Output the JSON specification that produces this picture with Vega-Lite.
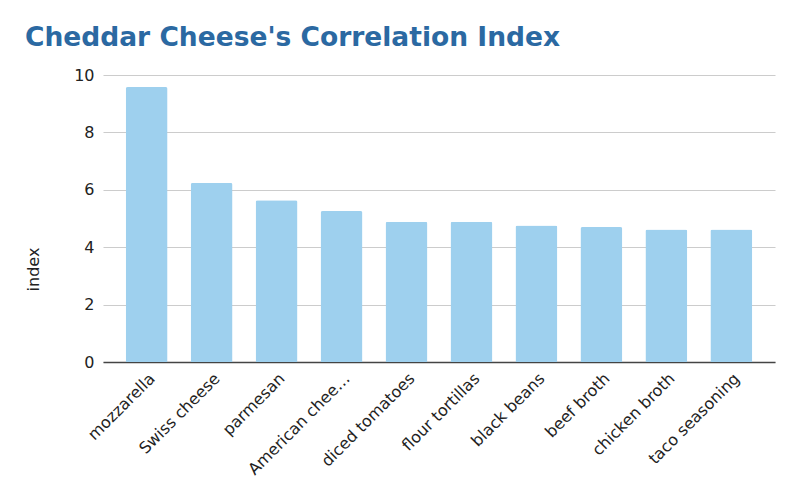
{
  "$schema": "https://vega.github.io/schema/vega-lite/v6.json",
  "autosize": "none",
  "padding": {"left": 103, "top": 75, "right": 25, "bottom": 133},
  "width": 672,
  "height": 287,
  "title": {
    "text": "Cheddar Cheese's Correlation Index",
    "anchor": "start",
    "frame": "group",
    "dx": -78,
    "offset": -5,
    "baseline": "alphabetic",
    "font": "DejaVu Sans",
    "fontSize": 26.5,
    "fontWeight": "bold",
    "color": "#2b69a2"
  },
  "data": {
    "values": [
      {"ingredient": "mozzarella", "index": 9.58},
      {"ingredient": "Swiss cheese", "index": 6.24},
      {"ingredient": "parmesan", "index": 5.64},
      {"ingredient": "American chee…", "index": 5.26},
      {"ingredient": "diced tomatoes", "index": 4.89},
      {"ingredient": "flour tortillas", "index": 4.89},
      {"ingredient": "black beans", "index": 4.76},
      {"ingredient": "beef broth", "index": 4.7},
      {"ingredient": "chicken broth", "index": 4.62},
      {"ingredient": "taco seasoning", "index": 4.62}
    ]
  },
  "mark": {"type": "bar", "color": "#9ed0ee", "cornerRadiusTopLeft": 2, "cornerRadiusTopRight": 2},
  "encoding": {
    "x": {
      "field": "ingredient",
      "type": "nominal",
      "sort": null,
      "title": null,
      "scale": {"paddingInner": 0.354, "paddingOuter": 0.349},
      "axis": {
        "labelAngle": -45,
        "labelFontSize": 16,
        "labelColor": "#222",
        "ticks": false,
        "domainColor": "#444",
        "domainWidth": 1.5,
        "labelPadding": 8,
        "labelLimit": 200
      }
    },
    "y": {
      "field": "index",
      "type": "quantitative",
      "title": "index",
      "scale": {"domain": [0, 10]},
      "axis": {
        "values": [0, 2, 4, 6, 8, 10],
        "domain": false,
        "ticks": false,
        "labelPadding": 9,
        "labelFontSize": 16,
        "labelColor": "#222",
        "gridColor": "#cccccc",
        "gridWidth": 1.2,
        "titleFontSize": 16,
        "titleFontWeight": "normal",
        "titleColor": "#222",
        "titleX": -70,
        "titleY": 194,
        "titleAngle": -90,
        "titleBaseline": "middle",
        "titleAlign": "center"
      }
    }
  },
  "config": {
    "font": "DejaVu Sans",
    "view": {"stroke": null}
  }
}
